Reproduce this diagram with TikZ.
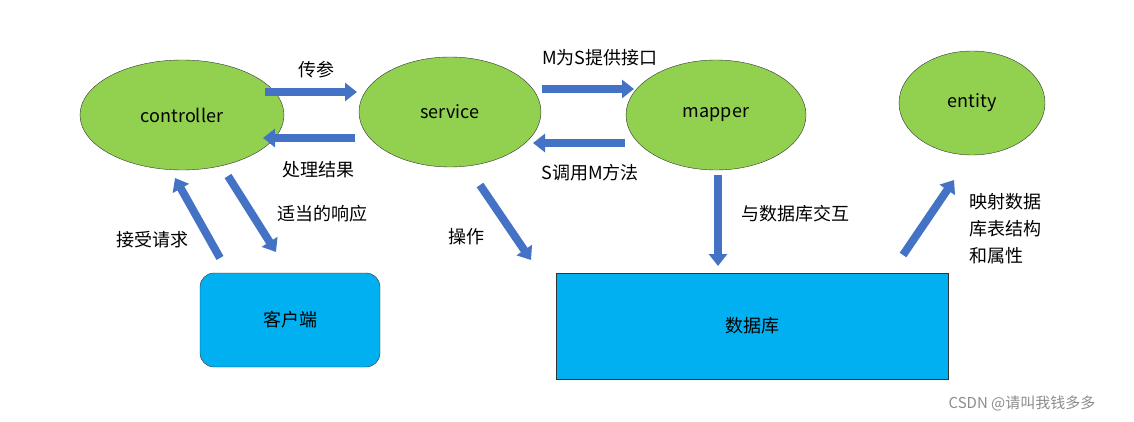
\documentclass[tikz,border=0pt]{standalone}
\usepackage{fontspec}
\setmainfont{Noto Sans CJK SC}
\usetikzlibrary{arrows.meta}
\definecolor{g}{HTML}{92D050}
\definecolor{b}{HTML}{00B0F0}
\definecolor{ab}{HTML}{4472C4}
\begin{document}
\begin{tikzpicture}[x=1pt,y=-1pt,
 el/.style={draw=black!80,fill=g,ellipse,minimum width=#1},
 t/.style={font=\fontsize{18}{20}\selectfont},
 ba/.style={draw=ab!70!black,line width=0.6pt,fill=ab},
]
\useasboundingbox (0,0) rectangle (1134,422);
\tikzset{blk/.style={ab,line width=8pt,-{Triangle[width=18pt,length=12pt]}}}
\draw[fill=g,draw=black!80] (182,115) ellipse [x radius=102,y radius=55];
\node[t] (c) at (182,115) {controller};
\draw[fill=g,draw=black!80] (450,112) ellipse [x radius=91,y radius=55];
\node[t] (s) at (450,112) {service};
\draw[fill=g,draw=black!80] (716,115) ellipse [x radius=90,y radius=55];
\node[t] (m) at (716,115) {mapper};
\draw[fill=g,draw=black!80] (972,103) ellipse [x radius=73,y radius=52];
\node[t] (e) at (972,103) {entity};
\draw[fill=b,draw=black!80,rounded corners=14] (200,273) rectangle (380,367);
\node[t] (k) at (290,320) {客户端};
\draw[fill=b,draw=black!80] (556,273) rectangle (948,379);
\node[t] (d) at (752,326) {数据库};
\foreach \a/\b in {265/92/355/92,355/138/265/138,542/89/632/89,625/143/535/143,220/258/176/180,228/176/275/250,480/185/530/258,718/175/718/265,903/255/953/182}{}
\coordinate (a1) at (265,92); \coordinate (b1) at (357,92);
\coordinate (a2) at (355,138); \coordinate (b2) at (263,138);
\coordinate (a3) at (542,89); \coordinate (b3) at (634,89);
\coordinate (a4) at (625,143); \coordinate (b4) at (533,143);
\coordinate (a5) at (220,258); \coordinate (b5) at (175,178);
\coordinate (a6) at (228,176); \coordinate (b6) at (276,252);
\coordinate (a7) at (480,185); \coordinate (b7) at (531,260);
\coordinate (a8) at (718,175); \coordinate (b8) at (718,266);
\coordinate (a9) at (903,255); \coordinate (b9) at (954,180);
\foreach \i in {1,...,9}{\draw[blk] (a\i) -- (b\i);}
\node[t] (l1) at (316,70) {传参};
\node[t] (l2) at (318,170) {处理结果};
\node[t] (l3) at (600,58) {M为S提供接口};
\node[t] (l4) at (590,173) {S调用M方法};
\node[t] (l5) at (152,240) {接受请求};
\node[t] (l6) at (322,214) {适当的响应};
\node[t] (l7) at (466,237) {操作};
\node[t] (l8) at (795,214) {与数据库交互};
\node[t,align=left,anchor=north west,font=\fontsize{18}{27}\selectfont] (l9) at (966,190) {映射数据\\库表结构\\和属性};
\node[font=\fontsize{15}{17}\selectfont,text=black!45] (w) at (1022,403) {CSDN @请叫我钱多多};
\end{tikzpicture}
\end{document}
